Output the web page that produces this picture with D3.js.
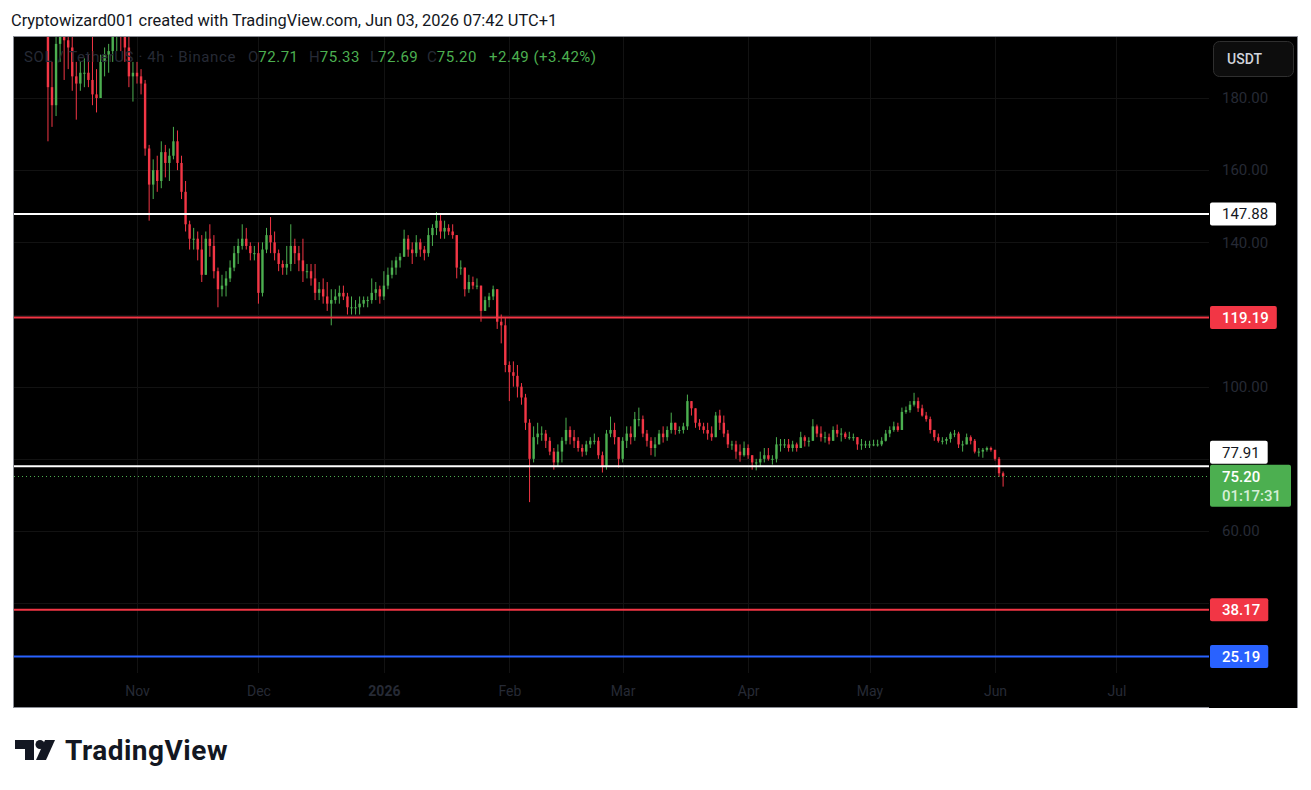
<!DOCTYPE html>
<html><head><meta charset="utf-8">
<script src="https://cdn.jsdelivr.net/npm/d3@7"></script>
<style>html,body{margin:0;padding:0;background:#fff;overflow:hidden}text{font-family:Roboto,"Noto Sans",sans-serif}</style>
</head><body><svg id="c" width="1311" height="790"></svg>
<script>
// ---------- DATA ----------
const startDate = "2025-10-10";           // first daily candle
const firstOpen = 218;
const highs = [
222,190,197,210,205,205,200,190,190,191,
192,197,188,192,194,195,200,205,204,200,
197,190,190,188,185,167,163,164,168,167,
166,172,171,164,157,146,144,143,142,143,
145,142,133,131,132,135,139,141,145,144,
140,139,140,140,144,147,143,138,135,139,
145,141,139,141,134,134,134,129,130,129,
127,127,128,128,126,125,124,125,125,125,
130,129,128,132,133,135,136,137,143.5,142,
140,142,141,139,144,145,148.4,148,146,145,
145,142,135,132,131,130.5,130,128,125,126,
128,127,120,119,107,107,106,101,98,91,
89,90,89,88,86,83,84,86,91.4,89,
88,86,84,85,86,87,86,82,88,91.7,
90,86,86,89,89,93,94.2,92,88,86,
86,88,89,89,92.8,90,89,90,97.8,96,
94,91,90,90,89,93,93.6,92,88,85,
85,84,84.8,84,81,80,82,83,83,81,
86,85.5,85.5,85.5,85,84.5,87.5,86.5,86,91,
89.5,89,87.5,87,89,89.5,88.5,87.5,87.5,87,
86,85.5,85,85,85.3,85.3,86,88,89,90.3,
90,94.2,94.5,96,98.3,97,95,93,91.7,88,
87,86,86,87.5,88,87.5,85,87,86.5,85.5,
83,83,83.4,83.4,82.5,80.5,76.5];
const lows = [
168,172,175,190,185,188,182,174,182,183,
183,178,176,180,186,187,190,193,193,190,
183,179,184,181,164,146,152,154,155,158,
157,163,160,152,143,138,138,135,129,131,
136,130,122,125,125,129,132,134,138,138,
135,135,123,125,137,137,135,132,131,131,
132,134,132,129,130,128,124,124,123,121,
117,123,123,124,120,120,120,120,122,122,
123,124,123,124,127,130,131,133,136,136,
134,136,136,135,136,139,142,141,141,142,
141,130,131,125,126,127,127,118,121,122,
124,116,112,104,96,100,97,95,88,68,
79,84,85,83,81,77,78,79,84,84,
83,82,80.6,81,83,84,80,76.2,77,86,
84,77.6,79,83,84,85,89,86,83.4,81,
80.6,84,84.5,85,87,86.7,87,87,88,92,
88.6,88,87,85.3,85,86,88,86,83,82.5,
80,79.2,80.6,80,77,76.8,78,79,79.5,78.4,
79,82,83,82,82,82,83,83.4,83.4,85,
86,84.8,84.5,84,85,86,84.8,85.5,85.3,85,
82.5,82.5,83,83,83.5,83.4,83.5,84.8,86,87.5,
87.5,88,92.5,92.8,94.5,93,91.7,90.3,87,85,
84.5,84,84,84.5,86,83,82,84,84,81.5,
80.6,80.3,82,82,79.5,75,72.3];
const closes = [
183,178,195,200,196,194,186,184,187,187,
185,181,180,190,192,193,198,200,197,194,
186,187,186,184,166,156,160,157,165,162,
164,168,162,154,145,141,141,138,131,141,
139,132,127,128,130,133,137,139,141,139,
137,137,126,138,142,140,137,134,133,134,
139,137,135,132,132,130,126,127,125,123,
124,125,126,125,122,122,122,123,124,124,
126,127,125,128,131,133,135,136,141,138,
137,140,138,137,142,144,146,143,144,143,
142,133,133,127,129,128,128,121,124,125,
127,118,117,106,104,103,100,97,90,80,
86,87,87,85,82,79,82,85,88,86,
85,83,82,84,85,85,81,78,87,88,
86,80,85,87,86,91,91,87,85,83,
84,87,86,88,90,88,88,89,96,94,
90,89,88,87,86,92,90,87,84,84,
82,81,83,81,79,79,80,81,80,80,
84,84,84,83,84,83,86,85,85,89,
87,86,86,85,88,87,87,86,86,86,
84,84,84,84,84,84,85,87,88,89,
88,93,93.5,95,96,94,92,91,88,86,
85,85,85.5,87,87,84,84,86,85,82,
82,82.5,83,82.5,80,76,75.2];

const levelValues = [147.88, 119.19, 77.91, 38.17, 25.19];
const levelKinds  = ["white", "red", "white", "red", "blue"];
const priceTicks  = [180, 160, 140, 120, 100, 80, 60, 40];
const monthTicks  = ["2025-11-01","2025-12-01","2026-01-01","2026-02-01","2026-03-01","2026-04-01","2026-05-01","2026-06-01","2026-07-01"];
const monthLabels = ["Nov","Dec","2026","Feb","Mar","Apr","May","Jun","Jul"];
const lastPrice   = 75.20;
const countdown   = "01:17:31";
const legendTitle = "SOL / TetherUS · 4h · Binance";
const legendKeys  = ["O","H","L","C"];
const legendVals  = ["72.71","75.33","72.69","75.20"];
const legendChange = "+2.49 (+3.42%)";
const headerText  = "Cryptowizard001 created with TradingView.com, Jun 03, 2026 07:42 UTC+1";

// ---------- STYLE / LAYOUT ----------
const UP = "#4caf50", DOWN = "#f23645", DIM = "#262a35";
const kindStyle = {white:{line:"#ffffff",box:"#ffffff",txt:"#131722"},
                   red:{line:"#f23645",box:"#f23645",txt:"#ffffff"},
                   blue:{line:"#2962ff",box:"#2962ff",txt:"#ffffff"}};
const P = {left:13, right:1209, top:37, bottom:673, panelRight:1298, panelBottom:708};
const legendPairX = [248, 309, 370, 427];
const legendChangeX = 489;

const svg = d3.select("#c");
const parse = d3.utcParse("%Y-%m-%d");
const t0 = parse(startDate);
const candles = closes.map((c,i)=>({
  date: d3.utcDay.offset(t0, i),
  o: i===0 ? firstOpen : closes[i-1], h: highs[i], l: lows[i], c: c }));

const x = d3.scaleUtc().domain([parse("2025-11-01"), parse("2026-06-01")]).range([137, 995]);
const y = d3.scaleLinear().domain([180, 60]).range([98, 531]);

svg.append("rect").attr("width",1311).attr("height",790).attr("fill","#fff");
svg.append("text").attr("x",11).attr("y",26).attr("font-size",16.4).attr("fill","#131722").text(headerText);

// panel
svg.append("rect").attr("x",P.left).attr("y",36).attr("width",P.panelRight-P.left).attr("height",P.panelBottom-36).attr("fill","#000");
svg.append("line").attr("x1",P.left).attr("x2",P.panelRight).attr("y1",36.5).attr("y2",36.5).attr("stroke","#8a8d95");
svg.append("line").attr("x1",P.panelRight-0.5).attr("x2",P.panelRight-0.5).attr("y1",36).attr("y2",P.panelBottom).attr("stroke","#8a8d95");
svg.append("line").attr("x1",P.left+0.5).attr("x2",P.left+0.5).attr("y1",36).attr("y2",P.panelBottom).attr("stroke","#8a8d95");
svg.append("line").attr("x1",P.left).attr("x2",P.right).attr("y1",P.panelBottom-0.5).attr("y2",P.panelBottom-0.5).attr("stroke","#8a8d95");

// grid
const monthDates = monthTicks.map(parse);
svg.append("g").selectAll("line").data(priceTicks).join("line")
  .attr("x1",P.left+1).attr("x2",P.right).attr("y1",d=>Math.round(y(d))+0.5).attr("y2",d=>Math.round(y(d))+0.5)
  .attr("stroke","#121212");
svg.append("g").selectAll("line").data(monthDates).join("line")
  .attr("x1",d=>Math.round(x(d))+0.5).attr("x2",d=>Math.round(x(d))+0.5).attr("y1",P.top).attr("y2",P.bottom)
  .attr("stroke","#121212");

// candles
svg.append("clipPath").attr("id","clip").append("rect")
  .attr("x",P.left+1).attr("y",P.top).attr("width",P.right-P.left-1).attr("height",P.bottom-P.top);
const cg = svg.append("g").attr("clip-path","url(#clip)");
const bw = 2.4;
const cs = cg.selectAll("g").data(candles).join("g");
cs.append("line")
  .attr("x1",d=>x(d.date)).attr("x2",d=>x(d.date))
  .attr("y1",d=>y(Math.max(d.h,d.o,d.c))).attr("y2",d=>y(Math.min(d.l,d.o,d.c)))
  .attr("stroke",d=>d.c>=d.o?UP:DOWN).attr("stroke-width",1);
cs.append("rect")
  .attr("x",d=>x(d.date)-bw/2).attr("width",bw)
  .attr("y",d=>y(Math.max(d.o,d.c)))
  .attr("height",d=>Math.max(1, Math.abs(y(d.o)-y(d.c))))
  .attr("fill",d=>d.c>=d.o?UP:DOWN);

// level lines
svg.append("g").selectAll("line").data(levelValues).join("line")
  .attr("x1",P.left+1).attr("x2",P.right).attr("y1",d=>y(d)).attr("y2",d=>y(d))
  .attr("stroke",(d,i)=>kindStyle[levelKinds[i]].line).attr("stroke-width",2);
// last price dotted
svg.append("line").attr("x1",P.left+1).attr("x2",P.right).attr("y1",Math.round(y(lastPrice))+0.5).attr("y2",Math.round(y(lastPrice))+0.5)
  .attr("stroke",UP).attr("stroke-width",1).attr("stroke-dasharray","1,3");

// legend
const lgd = svg.append("g").attr("font-size",15);
lgd.append("text").attr("x",24).attr("y",62).attr("fill",DIM).attr("letter-spacing",0.6).text(legendTitle);
legendKeys.forEach((k,i)=>{
  const t = lgd.append("text").attr("x",legendPairX[i]).attr("y",62);
  t.append("tspan").attr("fill",DIM).text(k);
  t.append("tspan").attr("fill",UP).attr("letter-spacing",0.5).text(legendVals[i]);
});
lgd.append("text").attr("x",legendChangeX).attr("y",62).attr("fill",UP).attr("letter-spacing",0.5).text(legendChange);

// label positions on price scale (tick labels hidden where labels sit, like TradingView)
const cy = y(lastPrice);
const curTop = cy - 11.5, curH = 42;
const labelH = 23;
const labelCenters = levelValues.map(v=>{
  let c = y(v);
  if (c + labelH/2 > curTop && c - labelH/2 < curTop + curH) c = curTop - 1 - labelH/2;
  return c;
});
const occupied = labelCenters.map(c=>[c-labelH/2, c+labelH/2]).concat([[curTop, curTop+curH]]);
const visibleTicks = priceTicks.filter(t=>{
  const ty = y(t);
  return !occupied.some(([a,b])=> ty+8 > a && ty-8 < b) && ty < P.bottom - 8;
});

// price axis
const ya = d3.axisRight(y).tickValues(visibleTicks).tickFormat(d3.format(".2f")).tickSize(0).tickPadding(0);
const yg = svg.append("g").attr("transform",`translate(1222,0)`).call(ya);
yg.select(".domain").remove();
yg.selectAll("text").attr("font-size",15).attr("fill",DIM).attr("font-family","Roboto");

// time axis
const xa = d3.axisBottom(x).tickValues(monthDates).tickFormat((d,i)=>monthLabels[i]).tickSize(0).tickPadding(4);
const xg = svg.append("g").attr("transform",`translate(0,682)`).call(xa);
xg.select(".domain").remove();
xg.selectAll("text").attr("font-size",14).attr("fill",DIM).attr("font-family","Roboto")
  .attr("font-weight",(d,i)=>monthLabels[i]==="2026"?700:400);

// USDT button
svg.append("rect").attr("x",1213.5).attr("y",41.5).attr("width",80).attr("height",35).attr("rx",6)
  .attr("fill","#0d0d0d").attr("stroke","#2f2f2f");
svg.append("text").attr("x",1227).attr("y",64).attr("font-size",14).attr("font-weight",500).attr("fill","#d1d4dc").text("USDT");

// level labels
levelValues.forEach((v,i)=>{
  const st = kindStyle[levelKinds[i]];
  const c = labelCenters[i];
  const g = svg.append("g");
  const t = g.append("text").attr("x",1222).attr("y",c+5.5).attr("font-size",15).attr("fill",st.txt)
     .attr("font-weight", levelKinds[i]==="white"?400:500).text(v.toFixed(2));
  const w = t.node().getComputedTextLength();
  g.insert("rect","text").attr("x",1210).attr("y",c-labelH/2).attr("width",w+20).attr("height",labelH).attr("rx",2).attr("fill",st.box);
});
const cgp = svg.append("g");
cgp.append("rect").attr("x",1210).attr("y",curTop).attr("width",81).attr("height",curH).attr("rx",2).attr("fill",UP);
cgp.append("text").attr("x",1222).attr("y",cy+5.5).attr("font-size",15).attr("font-weight",500).attr("fill","#ffffff").text(lastPrice.toFixed(2));
cgp.append("text").attr("x",1222).attr("y",cy+25).attr("font-size",15).attr("font-weight",500).attr("fill","#d6efd7").text(countdown);

// TradingView logo
const lgo = svg.append("g").attr("fill","#131722");
lgo.append("path").attr("d","M15,740 H34 V760 H25 V749 H15 Z");
lgo.append("circle").attr("cx",40).attr("cy",744.5).attr("r",4.5);
lgo.append("path").attr("d","M45,740 H55 L46,760 H36 Z");
svg.append("text").attr("x",65).attr("y",760).attr("font-size",28).attr("font-weight",700)
  .attr("font-family","Inter, Roboto, sans-serif").attr("fill","#131722").attr("letter-spacing",0.5).text("TradingView");
</script></body></html>
